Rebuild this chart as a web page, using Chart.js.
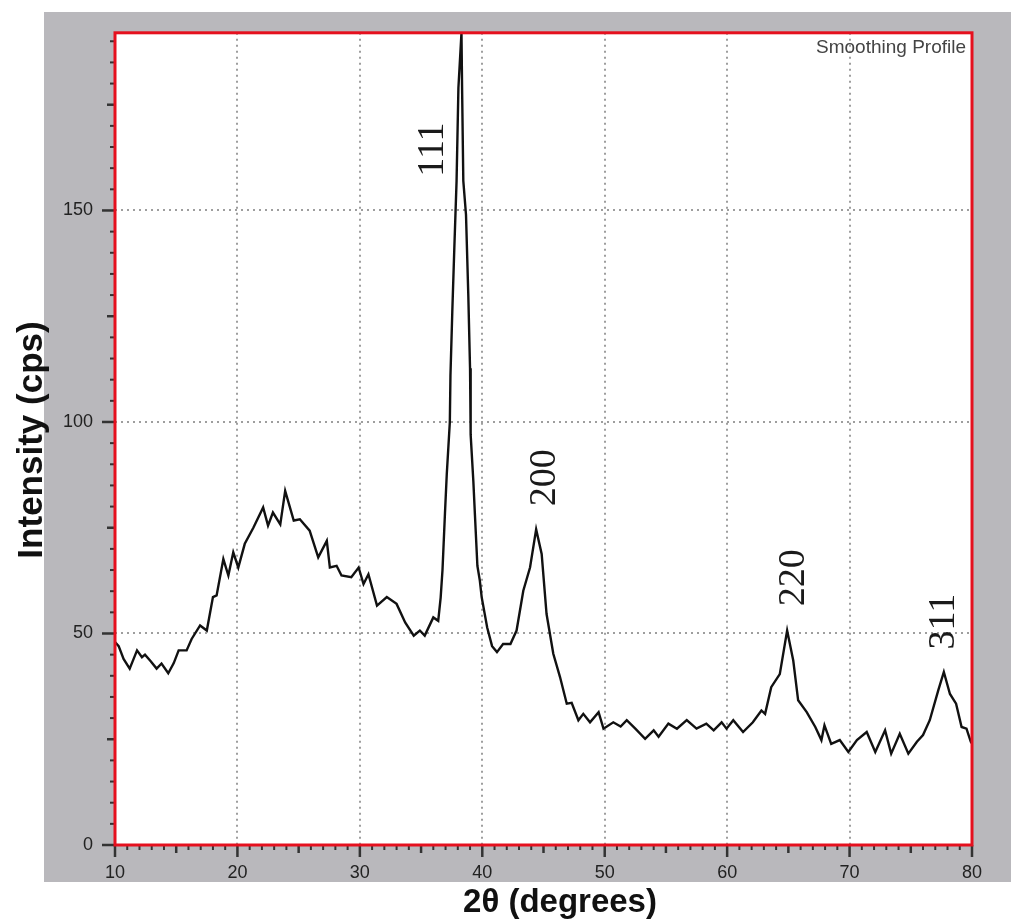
<!DOCTYPE html>
<html lang="en">
<head>
<meta charset="UTF-8">
<title>XRD pattern</title>
<script src="https://cdn.jsdelivr.net/npm/chart.js"></script>
<style>
  html, body { margin: 0; padding: 0; background: #fff; }
  canvas { display: block; }
</style>
</head>
<body>
<canvas id="xrdChart" width="1011" height="920"></canvas>
<script>
// 2theta positions (degrees) and smoothed intensity (cps)
const twoTheta = [
  10.0, 10.3, 10.7, 11.2, 11.8, 12.2, 12.45, 12.9, 13.4, 13.8, 14.35, 14.8, 15.2, 15.85,
  16.26, 16.95, 17.5, 18.0, 18.3, 18.85, 19.26, 19.66, 20.07, 20.6, 21.3, 22.1, 22.5,
  22.9, 23.5, 23.9, 24.6, 25.1, 25.9, 26.6, 27.3, 27.55, 28.1, 28.5, 29.3, 29.9, 30.3,
  30.7, 31.4, 32.2, 33.0, 33.7, 34.4, 34.9, 35.3, 36.0, 36.4, 36.6, 36.75, 36.95, 37.1,
  37.35, 37.4, 37.55, 37.72, 37.9, 38.05, 38.3, 38.35, 38.45, 38.67, 38.86, 39.0, 39.05,
  39.27, 39.4, 39.6, 39.8, 39.95, 40.4, 40.8, 41.2, 41.7, 42.3, 42.8, 43.35, 43.9, 44.4,
  44.85, 45.25, 45.8, 46.35, 46.9, 47.3, 47.85, 48.25, 48.8, 49.5, 49.9, 50.7, 51.3,
  51.8, 52.5, 53.3, 54.0, 54.4, 55.2, 55.9, 56.7, 57.5, 58.3, 58.9, 59.55, 59.95, 60.5,
  61.3, 62.1, 62.8, 63.1, 63.6, 64.3, 64.9, 65.4, 65.8, 66.5, 67.2, 67.7, 67.95, 68.5,
  69.2, 69.9, 70.6, 71.4, 72.1, 72.9, 73.4, 74.1, 74.8, 75.5, 76.0, 76.55, 77.25, 77.7,
  78.2, 78.7, 79.15, 79.55, 79.9, 80.0
];
const intensity = [
  48, 47, 44, 41.7, 46, 44.4, 45, 43.5, 41.7, 42.9, 40.6, 43, 46, 46,
  48.7, 51.9, 50.7, 58.6, 59, 67.6, 63.7, 69.2, 65.6, 71.2, 75, 79.8, 75.5,
  78.6, 75.8, 83.7, 76.7, 77, 74.3, 68, 71.9, 65.6, 66, 63.7, 63.3, 65.6, 61.7,
  64, 56.6, 58.6, 57, 52.6, 49.5, 50.7, 49.5, 53.8, 53, 58.5, 65, 78.3, 87.7,
  100, 111, 126, 141.5, 157, 179, 192, 179, 157, 149, 129.7, 112.7, 97,
  86, 78, 66, 62.5, 58.6, 51.4, 47, 45.6, 47.5, 47.5, 50.7, 60.1, 65.6, 74.6,
  68.8, 54.6, 45.2, 39.7, 33.4, 33.6, 29.5, 31, 29, 31.4, 27.5, 29, 28,
  29.5, 27.5, 25.1, 27.1, 25.6, 28.7, 27.5, 29.5, 27.5, 28.7, 27.1, 29, 27.5, 29.5,
  26.7, 29, 31.8, 31, 37.3, 40.4, 50.7, 43.6, 34.2, 31.4, 27.9, 24.8, 28.3, 23.9,
  24.8, 22, 24.8, 26.7, 22, 27.1, 21.6, 26.3, 21.6, 24.4, 26, 29.5, 36.6, 40.9,
  35.7, 33.4, 27.9, 27.5, 24.4, 24
];

// tick labels
const xTickValues = [10, 20, 30, 40, 50, 60, 70, 80];
const yTickValues = [0, 50, 100, 150];

// reflection labels and where their centres sit (in 2theta / cps)
const peakNames = ['111', '200', '220', '311'];
const peakLabelTheta = [36.0, 45.1, 65.5, 77.7];
const peakLabelCps = [164.4, 86.8, 63.2, 52.8];

const points = twoTheta.map((t, i) => ({ x: t, y: intensity[i] }));

const xrdFrame = {
  id: 'xrdFrame',
  beforeDraw(chart) {
    const { ctx, chartArea: a, scales } = chart;
    ctx.save();
    ctx.fillStyle = '#fff';
    ctx.fillRect(0, 0, chart.width, chart.height);
    ctx.fillStyle = '#b9b8bc';
    ctx.fillRect(44, 12, chart.width - 44, 870);
    ctx.fillStyle = '#fff';
    ctx.fillRect(a.left, a.top, a.right - a.left, a.bottom - a.top);

    // dotted grid
    ctx.strokeStyle = '#9e9e9e';
    ctx.lineWidth = 2;
    ctx.setLineDash([2, 4]);
    xTickValues.slice(1, -1).forEach(v => {
      const px = Math.round(scales.x.getPixelForValue(v));
      ctx.beginPath();
      ctx.moveTo(px, a.top);
      ctx.lineTo(px, a.bottom);
      ctx.stroke();
    });
    yTickValues.slice(1).forEach(v => {
      const py = Math.round(scales.y.getPixelForValue(v));
      ctx.beginPath();
      ctx.moveTo(a.left, py);
      ctx.lineTo(a.right, py);
      ctx.stroke();
    });
    ctx.restore();
  },
  afterDraw(chart) {
    const { ctx, chartArea: a, scales } = chart;
    ctx.save();

    // minor / major tick marks
    ctx.strokeStyle = '#333';
    for (let v = 10; v <= 80; v++) {
      const len = v % 10 === 0 ? 12 : (v % 5 === 0 ? 8 : 5);
      const px = scales.x.getPixelForValue(v);
      ctx.lineWidth = v % 5 === 0 ? 2.5 : 2;
      ctx.beginPath();
      ctx.moveTo(px, a.bottom);
      ctx.lineTo(px, a.bottom + len);
      ctx.stroke();
    }
    for (let v = 0; v <= 190; v += 5) {
      const len = v % 50 === 0 ? 13 : (v % 25 === 0 ? 8 : 5);
      const py = scales.y.getPixelForValue(v);
      ctx.lineWidth = v % 25 === 0 ? 2.5 : 2;
      ctx.beginPath();
      ctx.moveTo(a.left, py);
      ctx.lineTo(a.left - len, py);
      ctx.stroke();
    }

    // red plot frame
    ctx.strokeStyle = '#e5101e';
    ctx.lineWidth = 3;
    ctx.strokeRect(a.left, a.top, a.right - a.left, a.bottom - a.top);

    // corner note
    ctx.fillStyle = '#444';
    ctx.font = '19px "Liberation Sans", Arial, sans-serif';
    ctx.textAlign = 'right';
    ctx.textBaseline = 'alphabetic';
    ctx.fillText('Smoothing Profile', a.right - 6, a.top + 20);

    // reflection labels
    ctx.fillStyle = '#1a1a1a';
    ctx.font = '38px "Liberation Serif", "Times New Roman", serif';
    ctx.textAlign = 'center';
    ctx.textBaseline = 'middle';
    peakNames.forEach((name, i) => {
      ctx.save();
      ctx.translate(scales.x.getPixelForValue(peakLabelTheta[i]), scales.y.getPixelForValue(peakLabelCps[i]));
      ctx.rotate(-Math.PI / 2);
      ctx.fillText(name, 0, 0);
      ctx.restore();
    });

    // axis titles
    ctx.fillStyle = '#111';
    ctx.font = 'bold 33px "Liberation Sans", Arial, sans-serif';
    ctx.textAlign = 'center';
    ctx.textBaseline = 'alphabetic';
    ctx.fillText('2θ (degrees)', 560, 912);

    ctx.save();
    ctx.font = 'bold 35px "Liberation Sans", Arial, sans-serif';
    ctx.translate(42, 440);
    ctx.rotate(-Math.PI / 2);
    ctx.fillText('Intensity (cps)', 0, 0);
    ctx.restore();

    ctx.restore();
  }
};

const tickFont = { family: '"Liberation Sans", Arial, sans-serif', size: 18 };

new Chart(document.getElementById('xrdChart'), {
  type: 'line',
  data: {
    datasets: [{
      label: 'Intensity',
      data: points,
      borderColor: '#111',
      borderWidth: 2.4,
      pointRadius: 0,
      tension: 0,
      fill: false
    }]
  },
  options: {
    responsive: false,
    animation: false,
    devicePixelRatio: 1,
    layout: { padding: { left: 44, top: 30, right: 39, bottom: 0 } },
    plugins: {
      legend: { display: false },
      tooltip: { enabled: false }
    },
    scales: {
      x: {
        type: 'linear',
        min: 10,
        max: 80,
        afterBuildTicks: s => { s.ticks = xTickValues.map(v => ({ value: v })); },
        afterFit: s => { s.height = 75; },
        grid: { display: false, drawTicks: false },
        border: { display: false },
        ticks: { font: tickFont, color: '#222', padding: 17, maxRotation: 0, autoSkip: false }
      },
      y: {
        type: 'linear',
        min: 0,
        max: 192,
        afterBuildTicks: s => { s.ticks = yTickValues.map(v => ({ value: v })); },
        afterFit: s => { s.width = 71; },
        grid: { display: false, drawTicks: false },
        border: { display: false },
        ticks: { font: tickFont, color: '#222', padding: 22 }
      }
    }
  },
  plugins: [xrdFrame]
});
</script>
</body>
</html>
